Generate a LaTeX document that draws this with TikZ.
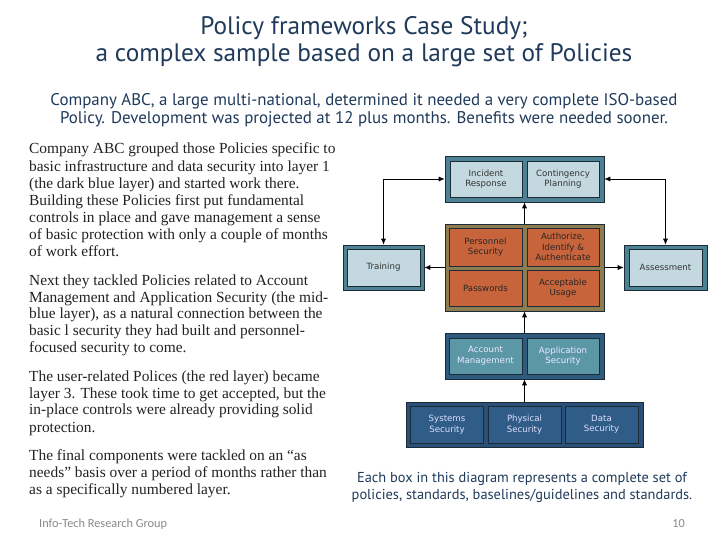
\documentclass[tikz,border=0pt]{standalone}
\usepackage{fontspec}
\setmainfont{Liberation Serif}
\newfontfamily\titlefont{PT Sans}
\newfontfamily\boxfont{DejaVu Sans}
\newfontfamily\footfont{Carlito}
\usetikzlibrary{arrows.meta}
\definecolor{titleblue}{HTML}{1F3A5A}
\definecolor{bodytext}{HTML}{222222}
\definecolor{footgray}{HTML}{8A8A8A}
\definecolor{edgedark}{HTML}{1C2B36}
\definecolor{topouter}{HTML}{4D8295}
\definecolor{topinner}{HTML}{C3D8DF}
\definecolor{redouter}{HTML}{8B7D50}
\definecolor{redinner}{HTML}{C8643C}
\definecolor{midouter}{HTML}{2E5A7E}
\definecolor{midinner}{HTML}{5B97A5}
\definecolor{botouter}{HTML}{2A5077}
\definecolor{botinner}{HTML}{2F5D87}
\tikzset{
  outerbox/.style={draw=edgedark, line width=0.6pt, inner sep=0pt},
  innerbox/.style={draw=edgedark, line width=0.8pt, inner sep=0pt, align=center,
    font=\boxfont\fontsize{8.6}{10.5}\selectfont},
  para/.style={anchor=base west, inner sep=0pt, text=bodytext,
    font=\fontsize{15.4}{16}\selectfont},
  conn/.style={draw=black, line width=0.7pt, -{Latex[length=6pt,width=5pt]}},
  conn2/.style={draw=black, line width=0.7pt, {Latex[length=6pt,width=5pt]}-{Latex[length=6pt,width=5pt]}}
}
\begin{document}
\begin{tikzpicture}[x=1pt,y=-1pt]
\useasboundingbox[fill=white] (0,0) rectangle (728,546);
% titles
\node[text=titleblue, font=\titlefont\fontsize{25.3}{27}\selectfont, align=center] (title) at (364,42)
  {Policy frameworks Case Study;\\a complex sample based on a large set of Policies};
\node[text=titleblue, font=\titlefont\fontsize{16.9}{18}\selectfont, align=center] (sub) at (364,110)
  {Company ABC, a large multi-national, determined it needed a very complete ISO-based\\Policy. Development was projected at 12 plus months. Benefits were needed sooner.};
% left text
\node[para] (l1) at (29,153) {Company ABC grouped those Policies specific to};
\node[para] (l2) at (29,171) {basic infrastructure and data security into layer 1};
\node[para] (l3) at (29,188) {(the dark blue layer) and started work there.};
\node[para] (l4) at (29,205) {Building these Policies first put fundamental};
\node[para] (l5) at (29,222) {controls in place and gave management a sense};
\node[para] (l6) at (29,239) {of basic protection with only a couple of months};
\node[para] (l7) at (29,256) {of work effort.};
\node[para] (m1) at (29,285) {Next they tackled Policies related to Account};
\node[para] (m2) at (29,302) {Management and Application Security (the mid-};
\node[para] (m3) at (29,318) {blue layer), as a natural connection between the};
\node[para] (m4) at (29,335) {basic l security they had built and personnel-};
\node[para] (m5) at (29,352) {focused security to come.};
\node[para] (n1) at (29,381) {The user-related Polices (the red layer) became};
\node[para] (n2) at (29,398) {layer 3. These took time to get accepted, but the};
\node[para] (n3) at (29,414) {in-place controls were already providing solid};
\node[para] (n4) at (29,432) {protection.};
\node[para] (o1) at (29,460) {The final components were tackled on an \textquotedblleft as};
\node[para] (o2) at (29,477) {needs\textquotedblright\ basis over a period of months rather than};
\node[para] (o3) at (29,494) {as a specifically numbered layer.};
% caption
\node[text=titleblue, font=\titlefont\fontsize{14.4}{17}\selectfont, align=center] (cap) at (522,487)
  {Each box in this diagram represents a complete set of\\policies, standards, baselines/guidelines and standards.};
% footer
\node[anchor=base west, inner sep=0pt, text=footgray, font=\footfont\fontsize{12.3}{14}\selectfont] (foot) at (39,527) {Info-Tech Research Group};
\node[anchor=base east, inner sep=0pt, text=footgray, font=\footfont\fontsize{12.3}{14}\selectfont] (pg) at (685,527) {10};
% diagram: top layer
\node[outerbox, fill=topouter, minimum width=159pt, minimum height=46pt] (tOuter) at (524.5,179) {};
\node[innerbox, fill=topinner, text=black!80, minimum width=72pt, minimum height=36pt] (ir) at (486,179) {Incident\\Response};
\node[innerbox, fill=topinner, text=black!80, minimum width=72pt, minimum height=36pt] (cp) at (563,179) {Contingency\\Planning};
% red layer
\node[outerbox, fill=redouter, minimum width=159pt, minimum height=87pt] (rOuter) at (524.5,267.5) {};
\node[innerbox, fill=redinner, text=black!85, minimum width=73pt, minimum height=38pt] (ps) at (485.5,247) {Personnel\\Security};
\node[innerbox, fill=redinner, text=black!85, minimum width=72pt, minimum height=38pt] (aia) at (563,247) {Authorize,\\Identify \&\\Authenticate};
\node[innerbox, fill=redinner, text=black!85, minimum width=73pt, minimum height=36pt] (pw) at (485.5,288) {Passwords};
\node[innerbox, fill=redinner, text=black!85, minimum width=72pt, minimum height=36pt] (au) at (563,288) {Acceptable\\Usage};
% side boxes
\node[outerbox, fill=topouter, minimum width=81pt, minimum height=45pt] (train) at (383.5,267.5) {};
\node[innerbox, fill=topinner, text=black!80, minimum width=73pt, minimum height=37pt] (trainIn) at (383.5,267.5) {Training};
\node[outerbox, fill=topouter, minimum width=83pt, minimum height=45pt] (assess) at (665.5,267.5) {};
\node[innerbox, fill=topinner, text=black!80, minimum width=73pt, minimum height=37pt] (assessIn) at (665.5,267.5) {Assessment};
% mid layer
\node[outerbox, fill=midouter, minimum width=159pt, minimum height=46pt] (mOuter) at (524.5,356) {};
\node[innerbox, fill=midinner, text=white!92!blue, minimum width=73pt, minimum height=36pt] (am) at (485.5,356) {Account\\Management};
\node[innerbox, fill=midinner, text=white!92!blue, minimum width=72pt, minimum height=36pt] (as) at (563,356) {Application\\Security};
% bottom layer
\node[outerbox, fill=botouter, minimum width=237pt, minimum height=45pt] (bOuter) at (524.5,424.5) {};
\node[innerbox, fill=botinner, text=white!88!blue, minimum width=73pt, minimum height=37pt] (ss) at (447,424.5) {Systems\\Security};
\node[innerbox, fill=botinner, text=white!88!blue, minimum width=73pt, minimum height=37pt] (phs) at (524.5,424.5) {Physical\\Security};
\node[innerbox, fill=botinner, text=white!88!blue, minimum width=73pt, minimum height=37pt] (ds) at (601.5,424.5) {Data\\Security};
% connectors
\draw[conn2] (tOuter.west) -| (train.north);
\draw[conn2] (tOuter.east) -| (assess.north);
\draw[conn] (rOuter.north) -- (tOuter.south);
\draw[conn] (rOuter.west) -- (train.east);
\draw[conn] (rOuter.east) -- (assess.west);
\draw[conn] (mOuter.north) -- (rOuter.south);
\draw[conn] (bOuter.north) -- (mOuter.south);
\end{tikzpicture}
\end{document}
